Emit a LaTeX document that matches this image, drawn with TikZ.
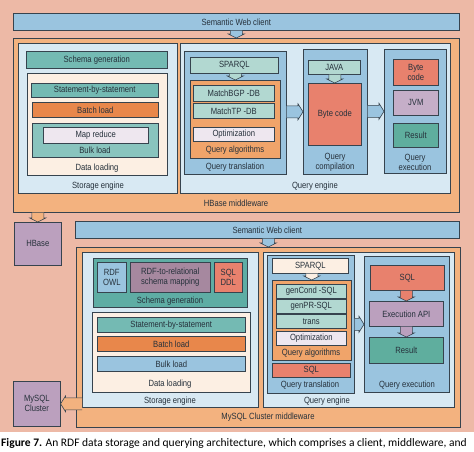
\documentclass[tikz,border=0pt]{standalone}
\usepackage{fontspec}
\setmainfont{Liberation Sans}[FakeStretch=0.85]
\newfontfamily\capfont{Carlito}
\usetikzlibrary{calc}

\definecolor{bgpink}{HTML}{EDB9A6}
\definecolor{mworange}{HTML}{F3B27F}
\definecolor{englight}{HTML}{D8E9F3}
\definecolor{grpblue}{HTML}{9AC4DF}
\definecolor{teal}{HTML}{74BAB3}
\definecolor{tealdark}{HTML}{5EADA4}
\definecolor{tealpale}{HTML}{B2D8D1}
\definecolor{batchorange}{HTML}{E8874B}
\definecolor{algorange}{HTML}{F0A46A}
\definecolor{salmon}{HTML}{E8816D}
\definecolor{mauve}{HTML}{BBA0BE}
\definecolor{mauvedark}{HTML}{A6889F}
\definecolor{lavpale}{HTML}{EEE7EF}
\definecolor{cream}{HTML}{FCEFE3}
\definecolor{resultteal}{HTML}{5FAE9E}
\definecolor{edge}{HTML}{36434E}
\definecolor{ink}{HTML}{26313B}

\tikzstyle{box} = [rectangle, draw=edge, line width=0.6pt, inner sep=0pt, align=center, anchor=north west]
\tikzstyle{middleware} = [box, fill=mworange]
\tikzstyle{engine} = [box, fill=englight]
\tikzstyle{stage} = [box, fill=grpblue]
\tikzstyle{tag} = [align=center, inner sep=0pt]
\tikzstyle{fatarrow} = [draw=edge, line width=0.6pt, line join=miter]

\newcommand{\fatdown}[3]{\draw[fatarrow, fill=#1] let \p1=(#2.south -| #3), \p2=(#3.north) in (\x1-6pt,\y1) -- (\x1-6pt,\y2+4pt) -- (\x1-8pt,\y2+4pt) -- (\x1,\y2) -- (\x1+8pt,\y2+4pt) -- (\x1+6pt,\y2+4pt) -- (\x1+6pt,\y1);}
\newcommand{\fatright}[3]{\draw[fatarrow, fill=#1] let \p1=(#2.east |- #3), \p2=(#3.west) in (\x1,\y1+6pt) -- (\x2-5pt,\y1+6pt) -- (\x2-5pt,\y1+8pt) -- (\x2,\y1) -- (\x2-5pt,\y1-8pt) -- (\x2-5pt,\y1-6pt) -- (\x1,\y1-6pt);}
\newcommand{\fatleft}[3]{\draw[fatarrow, fill=#1] let \p1=(#2.west |- #3), \p2=(#3.east) in (\x1,\y1+6pt) -- (\x2+5pt,\y1+6pt) -- (\x2+5pt,\y1+8pt) -- (\x2,\y1) -- (\x2+5pt,\y1-8pt) -- (\x2+5pt,\y1-6pt) -- (\x1,\y1-6pt);}

\begin{document}
\begin{tikzpicture}[x=1pt, y=-1pt, every node/.style={text=ink, font=\fontsize{9}{10}\selectfont}]
        \useasboundingbox (0,0) rectangle (474,451);
        \fill[white] (0,0) rectangle (474,451);
        \fill[bgpink] (0,0) rectangle (474,432);
        \node (web-client-top) [stage, minimum width=446pt, minimum height=17pt] at (13,13) {Semantic Web client};
        \node (hbase-mw) [middleware, minimum width=446pt, minimum height=174pt] at (13,38) {};
        \node (hbase-mw-label) [tag] at (236,203) {HBase middleware};
        \node (storage-top) [engine, minimum width=159pt, minimum height=150pt] at (18,43) {};
        \node (storage-top-label) [tag] at (98,186) {Storage engine};
        \node (query-top) [engine, minimum width=270pt, minimum height=150pt] at (180,43) {};
        \node (query-top-label) [tag] at (315,186) {Query engine};
        \node (schema-top) [box, fill=teal, minimum width=141pt, minimum height=17pt] at (26,51) {Schema generation};
        \node (loading-top) [box, fill=cream, minimum width=140pt, minimum height=102pt] at (27,73) {};
        \node (loading-top-label) [tag] at (97,168) {Data loading};
        \node (stmt-top) [box, fill=teal, minimum width=127pt, minimum height=14pt] at (31,83) {Statement-by-statement};
        \node (batch-top) [box, fill=batchorange, minimum width=126pt, minimum height=15pt] at (32,102) {Batch load};
        \node (bulk-top) [box, fill=teal!85!white, minimum width=126pt, minimum height=34pt] at (32,123) {};
        \node (bulk-top-label) [tag] at (95,150) {Bulk load};
        \node (mapreduce-top) [box, fill=lavpale, minimum width=105pt, minimum height=16pt] at (43,127) {Map reduce};
        \node (qt-top) [stage, minimum width=102pt, minimum height=123pt] at (184,51) {};
        \node (qt-top-label) [tag] at (235,167) {Query translation};
        \node (sparql-top) [box, fill=tealpale, minimum width=88pt, minimum height=16pt] at (190,57) {SPARQL};
        \node (qa-top) [box, fill=algorange, minimum width=90pt, minimum height=78pt] at (190,80) {};
        \node (qa-top-label) [tag] at (235,150) {Query algorithms};
        \node (matchbgp) [box, fill=tealpale, minimum width=81pt, minimum height=16pt] at (193,85) {MatchBGP -DB};
        \node (matchtp) [box, fill=tealpale, minimum width=81pt, minimum height=15pt] at (193,103) {MatchTP -DB};
        \node (optim-top) [box, fill=lavpale, minimum width=81pt, minimum height=14pt] at (193,127) {Optimization};
        \node (qc-top) [stage, minimum width=64pt, minimum height=125pt] at (303,49) {};
        \node (qc-top-label) [tag] at (335,162) {Query\\compilation};
        \node (java) [box, fill=tealpale, minimum width=52pt, minimum height=14pt] at (308,60) {JAVA};
        \node (bytecode-mid) [box, fill=salmon, minimum width=53pt, minimum height=62pt] at (308,83) {Byte code};
        \node (qe-top) [stage, minimum width=62pt, minimum height=124pt] at (384,49) {};
        \node (qe-top-label) [tag] at (415,162) {Query\\execution};
        \node (bytecode-right) [box, fill=salmon, minimum width=45pt, minimum height=26pt] at (393,59) {Byte\\code};
        \node (jvm) [box, fill=mauve!85!white, minimum width=45pt, minimum height=25pt] at (393,90) {JVM};
        \node (result-top) [box, fill=resultteal, minimum width=45pt, minimum height=24pt] at (393,123) {Result};
        \node (hbase) [box, fill=mauve, minimum width=47pt, minimum height=43pt] at (14,222) {HBase};
        \node (web-client-bot) [stage, minimum width=384pt, minimum height=17pt] at (75,221) {Semantic Web client};
        \node (mysql-mw) [middleware, minimum width=384pt, minimum height=180pt] at (76,247) {};
        \node (mysql-mw-label) [tag] at (268,417) {MySQL Cluster middleware};
        \node (storage-bot) [engine, minimum width=176pt, minimum height=155pt] at (82,252) {};
        \node (storage-bot-label) [tag] at (170,401) {Storage engine};
        \node (query-bot) [engine, minimum width=191pt, minimum height=155pt] at (263,252) {};
        \node (query-bot-label) [tag] at (327,401) {Query engine};
        \node (schema-bot) [box, fill=tealdark, minimum width=154pt, minimum height=49pt] at (93,258) {};
        \node (schema-bot-label) [tag] at (170,301) {Schema generation};
        \node (rdfowl) [box, fill=grpblue, minimum width=29pt, minimum height=30pt] at (97,262) {RDF\\OWL};
        \node (rdf2rel) [box, fill=mauvedark, minimum width=80pt, minimum height=30pt] at (130,262) {RDF-to-relational\\schema mapping};
        \node (sqlddl) [box, fill=salmon, minimum width=28pt, minimum height=30pt] at (214,262) {SQL\\DDL};
        \node (loading-bot) [box, fill=cream, minimum width=158pt, minimum height=80pt] at (92,312) {};
        \node (loading-bot-label) [tag] at (170,384) {Data loading};
        \node (stmt-bot) [box, fill=teal, minimum width=148pt, minimum height=15pt] at (97,317) {Statement-by-statement};
        \node (batch-bot) [box, fill=batchorange, minimum width=148pt, minimum height=15pt] at (97,336) {Batch load};
        \node (bulk-bot) [box, fill=grpblue, minimum width=148pt, minimum height=15pt] at (97,356) {Bulk load};
        \node (mysql-cluster) [box, fill=mauve, minimum width=47pt, minimum height=45pt] at (13,381) {MySQL\\Cluster};
        \node (qt-bot) [stage, minimum width=87pt, minimum height=138pt] at (267,255) {};
        \node (qt-bot-label) [tag] at (310,385) {Query translation};
        \node (sparql-bot) [box, fill=cream, minimum width=76pt, minimum height=15pt] at (272,258) {SPARQL};
        \node (qa-bot) [box, fill=algorange, minimum width=79pt, minimum height=80pt] at (272,280) {};
        \node (qa-bot-label) [tag] at (311,353) {Query algorithms};
        \node (gencond) [box, fill=tealpale, minimum width=70pt, minimum height=14pt] at (276,284) {genCond -SQL};
        \node (genpr) [box, fill=tealpale, minimum width=70pt, minimum height=14pt] at (276,299) {genPR-SQL};
        \node (trans) [box, fill=tealpale, minimum width=70pt, minimum height=14pt] at (276,314) {trans};
        \node (optim-bot) [box, fill=lavpale, minimum width=70pt, minimum height=14pt] at (276,331) {Optimization};
        \node (sql-trans) [box, fill=salmon, minimum width=78pt, minimum height=14pt] at (272,363) {SQL};
        \node (qe-bot) [stage, minimum width=85pt, minimum height=136pt] at (364,256) {};
        \node (qe-bot-label) [tag] at (407,385) {Query execution};
        \node (sql-exec) [box, fill=salmon, minimum width=74pt, minimum height=25pt] at (370,265) {SQL};
        \node (execapi) [box, fill=mauve, minimum width=74pt, minimum height=25pt] at (369,301) {Execution API};
        \node (result-bot) [box, fill=resultteal, minimum width=74pt, minimum height=26pt] at (369,337) {Result};
        \node (caption) [anchor=base west, inner sep=0pt, text=black, font=\capfont\fontsize{11.5}{13}\selectfont] at (1,446.5) {\textbf{Figure 7.} An RDF data storage and querying architecture, which comprises a client, middleware, and};
        \fatdown{grpblue}{web-client-top}{hbase-mw}
        \fatdown{tealpale}{sparql-top}{qa-top}
        \fatdown{tealpale}{java}{bytecode-mid}
        \fatright{grpblue}{qt-top}{qc-top}
        \fatright{grpblue}{qc-top}{qe-top}
        \fatdown{mworange}{hbase-mw}{hbase}
        \fatdown{grpblue}{web-client-bot}{mysql-mw}
        \fatdown{cream}{sparql-bot}{qa-bot}
        \fatright{grpblue}{qt-bot}{qe-bot}
        \fatdown{salmon}{sql-exec}{execapi}
        \fatdown{mauve}{execapi}{result-bot}
        \fatleft{mworange}{storage-bot}{mysql-cluster}
    \end{tikzpicture}
\end{document}
